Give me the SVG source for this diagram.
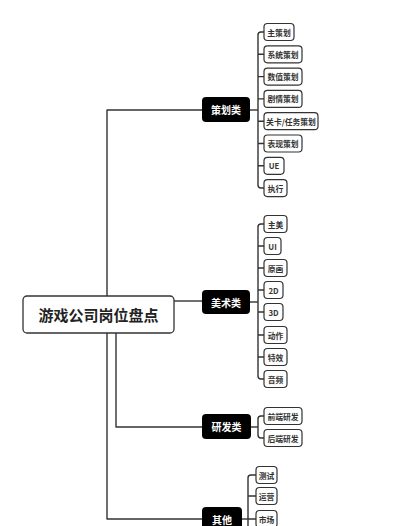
<svg xmlns="http://www.w3.org/2000/svg" width="400" height="526" viewBox="0 0 400 526">
<style>
.bg{fill:#ffffff}
.ln{fill:none;stroke:#333333;stroke-width:1.4;stroke-linejoin:round}
.root rect{fill:#ffffff;stroke:#333333;stroke-width:1.3}
.root text{font-family:"Noto Sans CJK SC","Noto Sans",sans-serif;font-size:15px;font-weight:bold;fill:#222222;text-anchor:middle;dominant-baseline:central}
.cat rect{fill:#000000}
.cat text{font-family:"Noto Sans CJK SC","Noto Sans",sans-serif;font-size:10px;font-weight:bold;fill:#ffffff;text-anchor:middle;dominant-baseline:central}
.leaf rect{fill:#ffffff;stroke:#333333;stroke-width:1.2}
.leaf text{font-family:"Noto Sans CJK SC","Noto Sans",sans-serif;font-size:7.8px;font-weight:bold;fill:#333333;text-anchor:middle;dominant-baseline:central}
</style>
<rect class="bg" x="0" y="0" width="400" height="526"/>
<g id="connectors">
  <path class="ln" d="M107 296 V110 H202"/>
  <path class="ln" d="M174 301 H202"/>
  <path class="ln" d="M116 333 V427 H202"/>
  <path class="ln" d="M107 333 V519 H202"/>
  <path class="ln" d="M250 110 H258"/>
  <path class="ln" d="M264 32 H261 Q258 32 258 35 V185 Q258 188 261 188 H264"/>
  <path class="ln" d="M258 54.3 H264 M258 76.6 H264 M258 98.9 H264 M258 121.2 H264 M258 143.5 H264 M258 165.8 H264"/>
  <path class="ln" d="M250 302 H258"/>
  <path class="ln" d="M264 224 H261 Q258 224 258 227 V376 Q258 379 261 379 H264"/>
  <path class="ln" d="M258 246 H264 M258 268 H264 M258 290 H264 M258 312 H264 M258 335 H264 M258 357 H264"/>
  <path class="ln" d="M251 427 H258"/>
  <path class="ln" d="M264 416 H261 Q258 416 258 419 V435 Q258 438 261 438 H264"/>
  <path class="ln" d="M242 519 H248"/>
  <path class="ln" d="M256 475 H251 Q248 475 248 478 V530"/>
  <path class="ln" d="M248 496 H256 M248 519 H256"/>
</g>
<g id="root" class="root">
  <rect x="23" y="296" width="151" height="37" rx="4"/>
  <text x="98.5" y="314.5">游戏公司岗位盘点</text>
</g>
<g id="cat-cehua" class="cat"><rect x="202" y="97" width="48" height="25" rx="4"/><text x="226" y="109.5">策划类</text></g>
<g id="cat-meishu" class="cat"><rect x="202" y="290" width="48" height="24" rx="4"/><text x="226" y="302">美术类</text></g>
<g id="cat-yanfa" class="cat"><rect x="202" y="414" width="49" height="25" rx="4"/><text x="226.5" y="426.5">研发类</text></g>
<g id="cat-qita" class="cat"><rect x="202" y="507" width="40" height="25" rx="4"/><text x="222" y="519.5">其他</text></g>

<g id="leaf-zhucehua" class="leaf"><rect x="264" y="23.5" width="30" height="17" rx="3.5"/><text x="279" y="32">主策划</text></g>
<g id="leaf-xitong" class="leaf"><rect x="264" y="45.8" width="38" height="17" rx="3.5"/><text x="283" y="54.3">系统策划</text></g>
<g id="leaf-shuzhi" class="leaf"><rect x="264" y="68.1" width="38" height="17" rx="3.5"/><text x="283" y="76.6">数值策划</text></g>
<g id="leaf-juqing" class="leaf"><rect x="264" y="90.4" width="38" height="17" rx="3.5"/><text x="283" y="98.9">剧情策划</text></g>
<g id="leaf-guanka" class="leaf"><rect x="264" y="112.7" width="54" height="17" rx="3.5"/><text x="291" y="121.2">关卡/任务策划</text></g>
<g id="leaf-biaoxian" class="leaf"><rect x="264" y="135" width="38" height="17" rx="3.5"/><text x="283" y="143.5">表现策划</text></g>
<g id="leaf-ue" class="leaf"><rect x="264" y="157.3" width="20" height="17" rx="3.5"/><text x="274" y="165.8">UE</text></g>
<g id="leaf-zhixing" class="leaf"><rect x="264" y="179.6" width="23" height="17" rx="3.5"/><text x="275.5" y="188.1">执行</text></g>

<g id="leaf-zhumei" class="leaf"><rect x="264" y="215.5" width="23" height="17" rx="3.5"/><text x="275.5" y="224">主美</text></g>
<g id="leaf-ui" class="leaf"><rect x="264" y="237.5" width="17" height="17" rx="3.5"/><text x="272.5" y="246">UI</text></g>
<g id="leaf-yuanhua" class="leaf"><rect x="264" y="259.5" width="23" height="17" rx="3.5"/><text x="275.5" y="268">原画</text></g>
<g id="leaf-2d" class="leaf"><rect x="264" y="281.5" width="19" height="17" rx="3.5"/><text x="273.5" y="290">2D</text></g>
<g id="leaf-3d" class="leaf"><rect x="264" y="303.5" width="19" height="17" rx="3.5"/><text x="273.5" y="312">3D</text></g>
<g id="leaf-dongzuo" class="leaf"><rect x="264" y="326.5" width="23" height="17" rx="3.5"/><text x="275.5" y="335">动作</text></g>
<g id="leaf-texiao" class="leaf"><rect x="264" y="348.5" width="23" height="17" rx="3.5"/><text x="275.5" y="357">特效</text></g>
<g id="leaf-yinpin" class="leaf"><rect x="264" y="370.5" width="23" height="17" rx="3.5"/><text x="275.5" y="379">音频</text></g>

<g id="leaf-qianduan" class="leaf"><rect x="264" y="407.5" width="38" height="17" rx="3.5"/><text x="283" y="416">前端研发</text></g>
<g id="leaf-houduan" class="leaf"><rect x="264" y="429.5" width="38" height="17" rx="3.5"/><text x="283" y="438">后端研发</text></g>

<g id="leaf-ceshi" class="leaf"><rect x="256" y="466.5" width="21" height="17" rx="3.5"/><text x="266.5" y="475">测试</text></g>
<g id="leaf-yunying" class="leaf"><rect x="256" y="487.5" width="21" height="17" rx="3.5"/><text x="266.5" y="496">运营</text></g>
<g id="leaf-shichang" class="leaf"><rect x="256" y="510.5" width="21" height="17" rx="3.5"/><text x="266.5" y="519">市场</text></g>
</svg>
